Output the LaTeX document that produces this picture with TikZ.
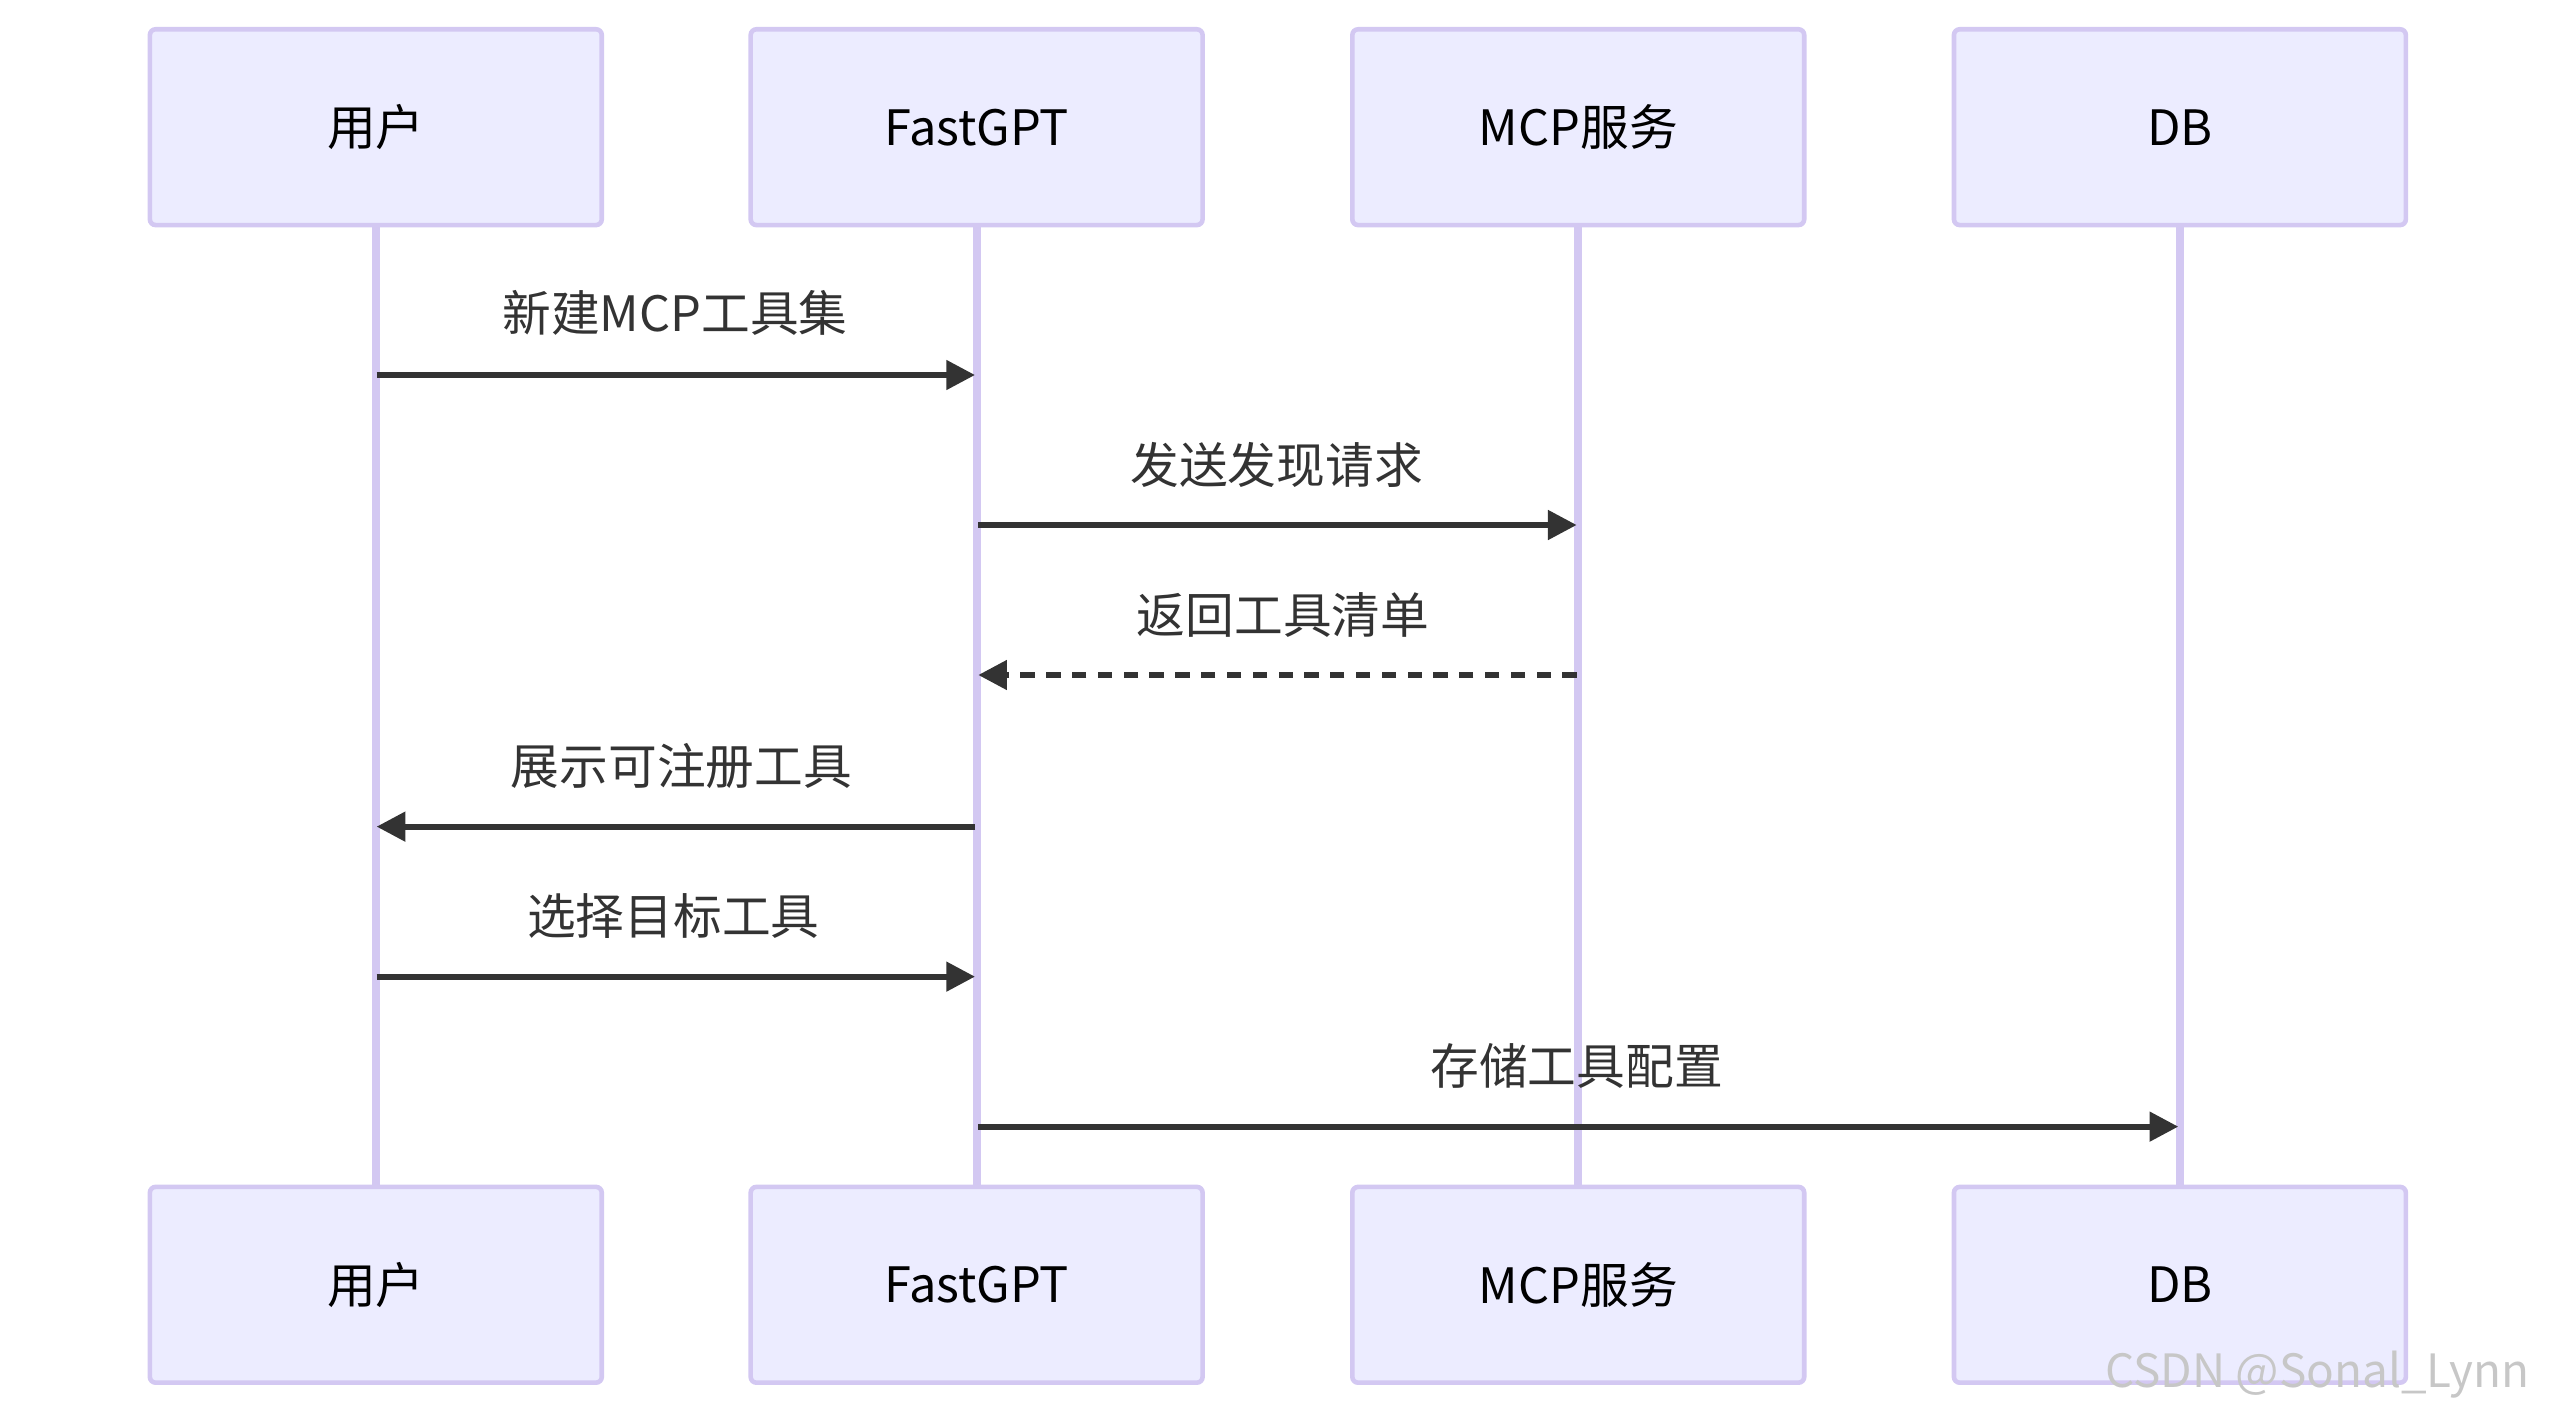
\documentclass[tikz,border=0pt]{standalone}
\usepackage{fontspec}
\setmainfont{Noto Sans CJK SC}
\usetikzlibrary{arrows.meta}
\definecolor{actfill}{HTML}{ECECFF}
\definecolor{actline}{HTML}{D3C8F2}
\definecolor{msg}{HTML}{333333}
\tikzset{
  actor/.style={rectangle, draw=actline, fill=actfill, line width=0.8pt, rounded corners=1pt,
    minimum width=2.77cm, minimum height=1.2cm, font=\fontsize{8.5}{10}\selectfont},
  life/.style={draw=actline, line width=1.4pt},
  call/.style={draw=msg, line width=1pt, -{Triangle[length=5pt,width=5pt]}},
  reply/.style={call, dash pattern=on 2.5pt off 2pt},
  lbl/.style={font=\fontsize{8.5}{10}\selectfont, text=msg}
}
\begin{document}
\begin{tikzpicture}[x=0.01cm,y=0.01cm]
\useasboundingbox (0,0) rectangle (1564,-867);
\node[actor] (u1) at (230.5,-78) {用户};
\node[actor] (f1) at (599,-78) {FastGPT};
\node[actor] (m1) at (968,-78) {MCP服务};
\node[actor] (d1) at (1337,-78) {DB};
\node[actor] (u2) at (230.5,-788) {用户};
\node[actor] (f2) at (599,-788) {FastGPT};
\node[actor] (m2) at (968,-788) {MCP服务};
\node[actor] (d2) at (1337,-788) {DB};

\draw[life] (u1) -- (u2);
\draw[life] (f1) -- (f2);
\draw[life] (m1) -- (m2);
\draw[life] (d1) -- (d2);

% messages
\coordinate (a1) at (231,-230); \coordinate (b1) at (598,-230);
\coordinate (a2) at (600,-322); \coordinate (b2) at (967,-322);
\coordinate (a3) at (967,-414); \coordinate (b3) at (600,-414);
\coordinate (a4) at (598,-507); \coordinate (b4) at (231,-507);
\coordinate (a5) at (231,-599); \coordinate (b5) at (598,-599);
\coordinate (a6) at (600,-691); \coordinate (b6) at (1336,-691);

\draw[call] (a1) -- (b1);
\draw[call] (a2) -- (b2);
\draw[reply] (a3) -- (b3);
\draw[call] (a4) -- (b4);
\draw[call] (a5) -- (b5);
\draw[call] (a6) -- (b6);

\node[lbl] (l1) at (414,-192) {新建MCP工具集};
\node[lbl] (l2) at (783,-285) {发送发现请求};
\node[lbl] (l3) at (787,-377) {返回工具清单};
\node[lbl] (l4) at (418,-470) {展示可注册工具};
\node[lbl] (l5) at (413,-562) {选择目标工具};
\node[lbl] (l6) at (967,-654) {存储工具配置};

\node[font=\fontsize{8}{9}\selectfont, text=black!22, anchor=east] (wm) at (1564,-843) {CSDN @Sonal\_Lynn};
\end{tikzpicture}
\end{document}
